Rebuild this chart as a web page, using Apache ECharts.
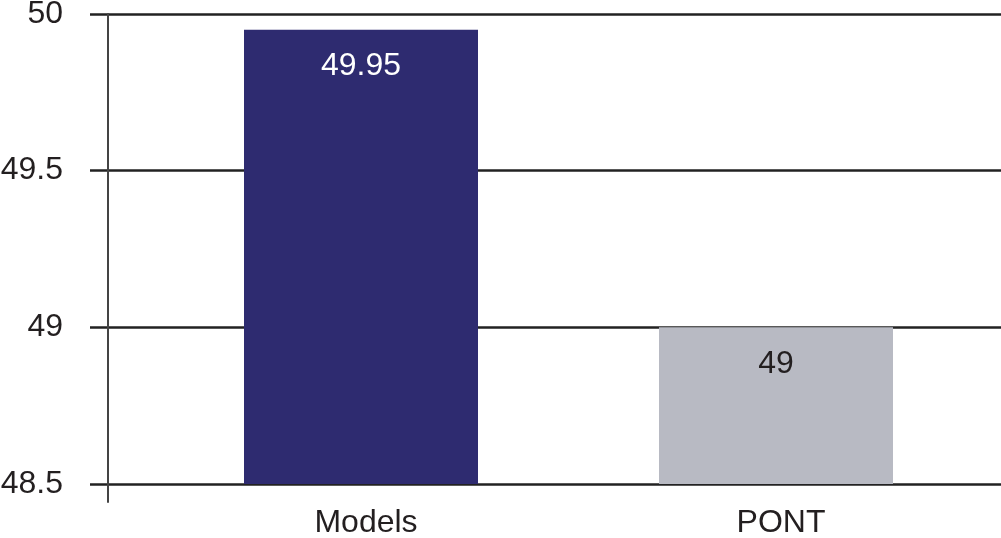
<!DOCTYPE html>
<html>
<head>
<meta charset="utf-8">
<script src="https://cdn.jsdelivr.net/npm/echarts@6/dist/echarts.min.js"></script>
<style>
html,body{margin:0;padding:0;background:#fff;}
#chart{width:1001px;height:538px;}
</style>
</head>
<body>
<div id="chart"></div>
<script>
const categories = ["Models", "PONT"];
const values = [49.95, 49];
const barColors = ["#2e2b70", "#b8bac3"];
const labelColors = ["#ffffff", "#231f20"];
const yMin = 48.5, yMax = 50, yStep = 0.5;

const font = "'Liberation Sans', Arial, Helvetica, sans-serif";
const chart = echarts.init(document.getElementById('chart'));
chart.setOption({
  animation: false,
  backgroundColor: '#ffffff',
  grid: [
    { left: 153.5, right: 17.5, top: 14, bottom: 54, outerBoundsMode: 'none', containLabel: false },
    { left: 90, right: 0, top: 14, bottom: 54, outerBoundsMode: 'none', containLabel: false },
    { left: 107.5, width: 1, top: 14, bottom: 36, outerBoundsMode: 'none', containLabel: false }
  ],
  xAxis: [
    {
      gridIndex: 0, type: 'category', data: categories,
      axisLine: { show: false }, axisTick: { show: false },
      axisLabel: { fontSize: 32, color: '#231f20', fontFamily: font, margin: 23, padding: [0, 0, 0, 10] }
    },
    { gridIndex: 1, type: 'value', show: false },
    { gridIndex: 2, type: 'value', show: false }
  ],
  yAxis: [
    {
      gridIndex: 0, type: 'value', min: yMin, max: yMax, interval: yStep,
      show: false
    },
    {
      gridIndex: 1, type: 'value', min: yMin, max: yMax, interval: yStep,
      axisLine: { show: false }, axisTick: { show: false },
      splitLine: { show: true, lineStyle: { color: '#222222', width: 2.5 } },
      axisLabel: { fontSize: 32, color: '#231f20', fontFamily: font, margin: 27 }
    },
    {
      gridIndex: 2, type: 'value', min: yMin, max: yMax,
      axisLine: { show: true, lineStyle: { color: '#444444', width: 2 } },
      axisTick: { show: false }, axisLabel: { show: false }, splitLine: { show: false }
    }
  ],
  series: [{
    type: 'bar',
    xAxisIndex: 0, yAxisIndex: 0,
    barWidth: 234,
    z: 1,
    data: values.map((v, i) => ({
      value: v,
      itemStyle: { color: barColors[i] },
      label: { color: labelColors[i] }
    })),
    label: {
      show: true, position: 'insideTop', distance: 21,
      fontSize: 32, fontFamily: font,
      formatter: p => String(p.value)
    }
  }]
});
</script>
</body>
</html>
